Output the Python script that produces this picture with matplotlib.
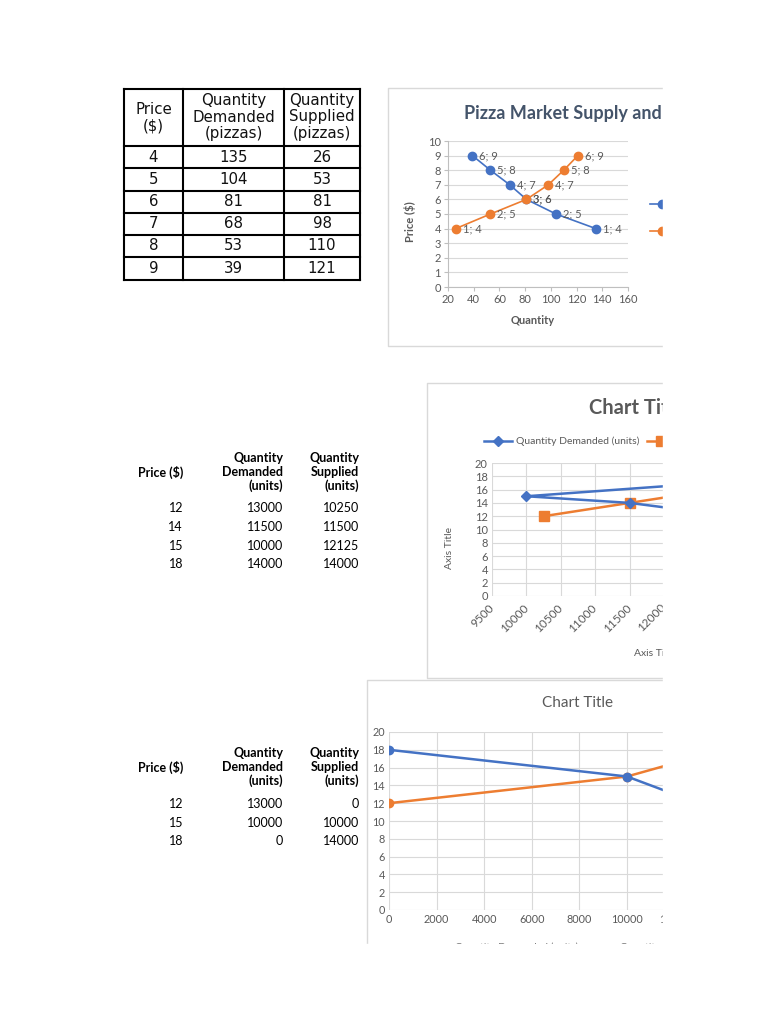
import matplotlib.pyplot as plt
from matplotlib.patches import Rectangle

plt.rcParams['font.family'] = ['Lato', 'DejaVu Sans']

# --- data -------------------------------------------------------------
pizza_price = [4, 5, 6, 7, 8, 9]
pizza_demand = [135, 104, 81, 68, 53, 39]
pizza_supply = [26, 53, 81, 98, 110, 121]

units_price = [12, 14, 15, 18]
units_demand = [13000, 11500, 10000, 14000]
units_supply = [10250, 11500, 12125, 14000]

units2_price = [12, 15, 18]
units2_demand = [13000, 10000, 0]
units2_supply = [0, 10000, 14000]

BLUE = "#4472C4"
ORANGE = "#ED7D31"
GRAY = "#595959"
GRID = "#D9D9D9"
SLATE = "#44546A"

W, H = 768, 1024
fig = plt.figure(figsize=(7.68, 10.24), dpi=100)


def box(x0, y0, x1, y1):
    # pixel box (top-left origin) -> figure fraction
    return [x0 / W, 1 - y1 / H, (x1 - x0) / W, (y1 - y0) / H]


# background layer for tables, frames and legend stubs
bg = fig.add_axes([0, 0, 1, 1], zorder=-5)
bg.set_xlim(0, W)
bg.set_ylim(H, 0)
bg.axis("off")

# --- table 1 (pizzas) -------------------------------------------------
cols = [124, 183, 284, 360]
rows = [89, 146, 168, 191, 213, 235, 257, 280]
for x in cols:
    bg.plot([x, x], [rows[0], rows[-1]], color="black", lw=1.5, solid_capstyle="projecting")
for y in rows:
    bg.plot([cols[0], cols[-1]], [y, y], color="black", lw=1.5, solid_capstyle="projecting")
centers = [(cols[i] + cols[i + 1]) / 2 for i in range(3)]
t1_font = dict(family="DejaVu Sans", fontsize=10.8, ha="center", va="center",
               linespacing=1.15, color="#111111")
bg.text(centers[0], 118, "Price\n($)", **t1_font)
bg.text(centers[1], 117, "Quantity\nDemanded\n(pizzas)", **t1_font)
bg.text(centers[2], 117, "Quantity\nSupplied\n(pizzas)", **t1_font)
for i in range(len(pizza_price)):
    y = (rows[i + 1] + rows[i + 2]) / 2
    bg.text(centers[0], y, str(pizza_price[i]), **t1_font)
    bg.text(centers[1], y, str(pizza_demand[i]), **t1_font)
    bg.text(centers[2], y, str(pizza_supply[i]), **t1_font)

# --- tables 2 and 3 (units) --------------------------------------------
tcol = [183, 283, 359]
hdr = dict(fontsize=9, fontweight="bold", ha="right", va="center", linespacing=1.15)
cell = dict(fontsize=9, ha="right", va="center")


def units_table(top, row_ys, price, demand, supply):
    bg.text(tcol[0], top + 15, "Price ($)", **hdr)
    bg.text(tcol[1], top + 15, "Quantity\nDemanded\n(units)", **hdr)
    bg.text(tcol[2], top + 15, "Quantity\nSupplied\n(units)", **hdr)
    for y, p, d, s in zip(row_ys, price, demand, supply):
        bg.text(tcol[0], y, str(p), **cell)
        bg.text(tcol[1], y, str(d), **cell)
        bg.text(tcol[2], y, str(s), **cell)


units_table(457, [508, 527, 546, 564], units_price, units_demand, units_supply)
units_table(752, [804, 823, 841], units2_price, units2_demand, units2_supply)

# --- chart frames ------------------------------------------------------
bg.plot([W, 388, 388, W], [88, 88, 346, 346], color=GRID, lw=1)
bg.plot([W, 427, 427, W], [383, 383, 678, 678], color=GRID, lw=1)
bg.plot([W, 367, 367], [680, 680, 960], color=GRID, lw=1)

# --- chart 1 : pizza market ---------------------------------------------
ax1 = fig.add_axes(box(448, 141, 628, 287))
ax1.patch.set_visible(False)
ax1.plot(pizza_demand, pizza_price, color=BLUE, marker="o", ms=6, lw=1.2, zorder=3)
ax1.plot(pizza_supply, pizza_price, color=ORANGE, marker="o", ms=6, lw=1.2, zorder=3)
for i, (q, p) in enumerate(zip(pizza_demand, pizza_price)):
    ax1.annotate(f"{i + 1}; {p}", (q, p), xytext=(5, 0), textcoords="offset points",
                 va="center", fontsize=8, color=GRAY, zorder=4)
for i, (q, p) in enumerate(zip(pizza_supply, pizza_price)):
    ax1.annotate(f"{i + 1}; {p}", (q, p), xytext=(5, 0), textcoords="offset points",
                 va="center", fontsize=8, color=GRAY, zorder=4)
ax1.set_xlim(20, 160)
ax1.set_ylim(0, 10)
ax1.set_xticks(range(20, 161, 20))
ax1.set_yticks(range(0, 11))
ax1.yaxis.grid(True, color=GRID, lw=0.8)
ax1.set_axisbelow(True)
for s in ["top", "right"]:
    ax1.spines[s].set_visible(False)
for s in ["left", "bottom"]:
    ax1.spines[s].set_color("#BFBFBF")
ax1.tick_params(direction="out", length=3, color="#BFBFBF", labelcolor=GRAY, labelsize=8, pad=2)
bg.text(464, 113, "Pizza Market Supply and Demand", fontsize=13, fontweight="bold",
        color=SLATE, ha="left", va="center")
bg.text(410, 222, "Price ($)", rotation=90, fontsize=8, fontweight="bold", color=GRAY,
        ha="center", va="center")
bg.text(533, 321, "Quantity", fontsize=8, fontweight="bold", color=GRAY, ha="center", va="center")
bg.plot([650, 690], [204, 204], color=BLUE, lw=1.2)
bg.plot([662], [204], color=BLUE, marker="o", ms=6)
bg.plot([650, 690], [231, 231], color=ORANGE, lw=1.2)
bg.plot([662], [231], color=ORANGE, marker="o", ms=6)

# --- chart 2 : units -----------------------------------------------------
px_9500, px_12000 = 492, 664
per_px = 2500 / (px_12000 - px_9500)
ax2 = fig.add_axes(box(px_9500, 463, 700, 596))
ax2.patch.set_visible(False)
ax2.plot(units_supply, units_price, color=ORANGE, marker="s", ms=7, lw=1.8, zorder=3)
ax2.plot(units_demand, units_price, color=BLUE, marker="D", ms=5, lw=1.8, zorder=4)
ax2.set_xlim(9500, 9500 + (700 - px_9500) * per_px)
ax2.set_ylim(0, 20)
ax2.set_xticks(range(9500, 12501, 500))
ax2.set_yticks(range(0, 21, 2))
ax2.grid(True, color=GRID, lw=0.8)
ax2.set_axisbelow(True)
for s in ax2.spines.values():
    s.set_visible(False)
ax2.tick_params(axis="y", length=0, labelcolor=GRAY, labelsize=8, pad=3)
ax2.tick_params(axis="x", length=0, labelcolor=GRAY, labelsize=8.5, pad=7)
for lbl in ax2.get_xticklabels():
    lbl.set_rotation(45)
    lbl.set_ha("right")
    lbl.set_va("center")
    lbl.set_rotation_mode("anchor")
bg.text(589, 408, "Chart Title", fontsize=14.5, fontweight="bold", color=GRAY, ha="left", va="center")
bg.plot([484, 512], [441, 441], color=BLUE, lw=1.8)
bg.plot([498], [441], color=BLUE, marker="D", ms=5)
bg.text(516, 441, "Quantity Demanded (units)", fontsize=7.5, color=GRAY, ha="left", va="center")
bg.plot([647, 690], [441, 441], color=ORANGE, lw=1.8)
bg.plot([661], [441], color=ORANGE, marker="s", ms=7)
bg.text(450, 548, "Axis Title", rotation=90, fontsize=7.5, color=GRAY, ha="center", va="center")
bg.text(634, 653, "Axis Title", fontsize=7.5, color=GRAY, ha="left", va="center")

# --- chart 3 : units with zero points -------------------------------------
px_0, px_10000 = 389, 627
per_px3 = 10000 / (px_10000 - px_0)
ax3 = fig.add_axes(box(px_0, 732, 700, 910))
ax3.patch.set_visible(False)
ax3.plot(units2_supply, units2_price, color=ORANGE, marker="o", ms=6, lw=1.8, zorder=3)
ax3.plot(units2_demand, units2_price, color=BLUE, marker="o", ms=6, lw=1.8, zorder=4)
ax3.set_xlim(0, (700 - px_0) * per_px3)
ax3.set_ylim(0, 20)
ax3.set_xticks(range(0, 12001, 2000))
ax3.set_yticks(range(0, 21, 2))
ax3.grid(True, color=GRID, lw=0.8)
ax3.set_axisbelow(True)
for s in ax3.spines.values():
    s.set_visible(False)
ax3.tick_params(length=0, labelcolor=GRAY, labelsize=7.8, pad=3)
bg.text(578, 703, "Chart Title", fontsize=11, color=GRAY, ha="center", va="center")
bg.text(455, 947, "Quantity Demanded (units)", fontsize=7.5, color=GRAY, ha="left", va="center")
bg.text(620, 947, "Quantity Supplied (units)", fontsize=7.5, color=GRAY, ha="left", va="center")

# --- page crop -------------------------------------------------------------
fig.add_artist(Rectangle((663 / W, 0), 1, 1, transform=fig.transFigure,
                         color="white", zorder=50))
fig.add_artist(Rectangle((0, 0), 1, (H - 944) / H, transform=fig.transFigure,
                         color="white", zorder=50))

fig.savefig("out.png", dpi=100)
